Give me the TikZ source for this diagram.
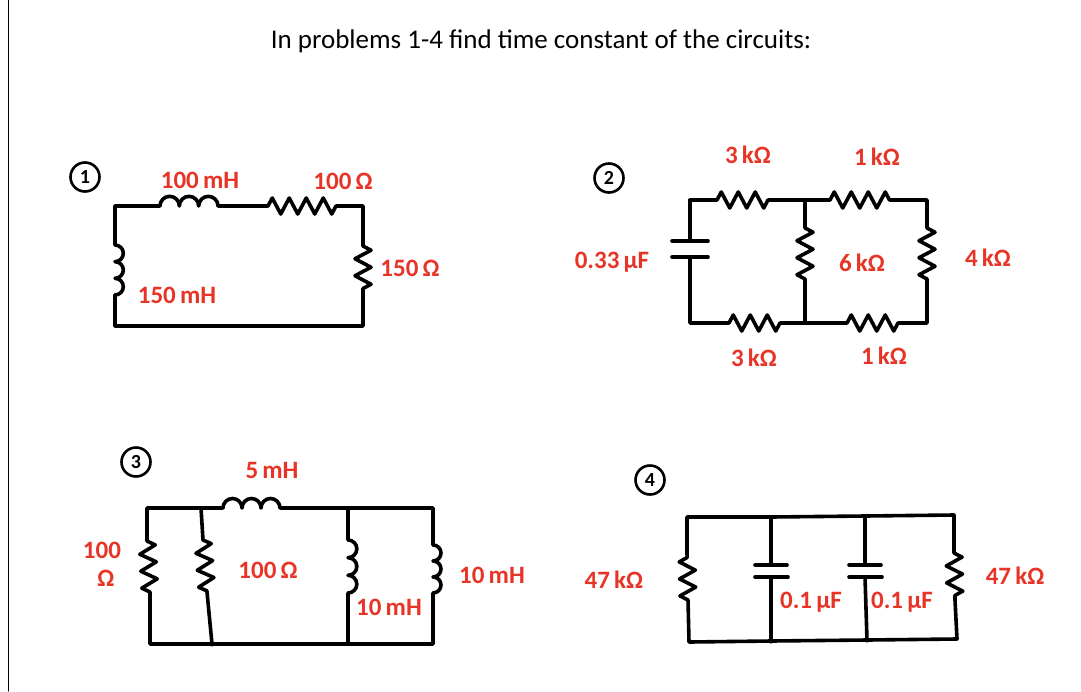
\documentclass[tikz,border=0pt]{standalone}
\usepackage{fontspec}
\setmainfont{Carlito}
\usetikzlibrary{decorations.pathmorphing}
\definecolor{hand}{RGB}{232,52,38}
\begin{document}
\begin{tikzpicture}[x=1pt,y=-1pt,line width=3.6pt,line join=round,line cap=round,
  res/.style={decoration={zigzag,segment length=17,amplitude=8}},
  hh/.style={start angle=180,end angle=360,radius=#1},
  vh/.style={start angle=-90,end angle=90,radius=#1},
  lab/.style={text=hand,font=\fontsize{25}{25}\bfseries\selectfont,inner sep=0pt},
  num/.style={circle,draw,line width=2.6pt,minimum size=29pt,inner sep=0pt,font=\fontsize{20}{20}\bfseries\selectfont},
  dot/.style={circle,fill,inner sep=1.8pt}]
\useasboundingbox (0,0) rectangle (1081,691);
\draw[line width=1pt] (8,0) -- (8,691);
\node (title) at (541,41) {\fontsize{27}{27}\selectfont In problems 1-4 find time constant of the circuits:};

% circuit 1
\node[num] (n1) at (85,177) {1};
\coordinate (a1) at (115,206); \coordinate (b1) at (363,206);
\coordinate (c1) at (363,326); \coordinate (d1) at (115,326);
\draw (a1) -- (160,206) arc[hh=9.67] arc[hh=9.67] arc[hh=9.67] -- (268,206) decorate[res]{-- (343,206)} -- (b1)
  -- (363,246) decorate[res]{-- (363,292)} -- (c1) -- (d1) -- (115,295);
\draw (a1) -- (115,245) arc[vh=8.33] arc[vh=8.33] arc[vh=8.33] -- (d1);
\node[lab] (l11) at (200,180) {100\,mH};
\node[lab] (l12) at (343,181) {100\,Ω};
\node[lab] (l13) at (410,268) {150\,Ω};
\node[lab] (l14) at (177,295) {150\,mH};

% circuit 2
\node[num] (n2) at (609,178) {2};
\coordinate (a2) at (690,200); \coordinate (m2) at (805,200); \coordinate (b2) at (927,200);
\coordinate (c2) at (927,323); \coordinate (mb2) at (805,323); \coordinate (d2) at (690,323);
\draw (a2) -- (717,200) decorate[res]{-- (768,200)} -- (m2) -- (830,200) decorate[res]{-- (890,200)} -- (b2)
  -- (927,228) decorate[res]{-- (927,283)} -- (c2) -- (898,323) decorate[res]{-- (842,323)} -- (mb2)
  -- (780,323) decorate[res]{-- (722,323)} -- (d2) -- (690,257);
\draw (a2) -- (690,241);
\draw (m2) -- (805,228) decorate[res]{-- (805,287)} -- (mb2);
\draw (672,241) -- (708,241) (672,257) -- (708,257);
\node[lab] (l21) at (748,155) {3\,kΩ};
\node[lab] (l22) at (877,157) {1\,kΩ};
\node[lab] (l23) at (612,262) {0.33\,μF};
\node[lab] (l24) at (862,263) {6\,kΩ};
\node[lab] (l25) at (988,258) {4\,kΩ};
\node[lab] (l26) at (754,358) {3\,kΩ};
\node[lab] (l27) at (884,356) {1\,kΩ};

% circuit 3
\node[num] (n3) at (136,462) {3};
\coordinate (a3) at (147,508); \coordinate (p3) at (201,508); \coordinate (q3) at (348,508); \coordinate (b3) at (433,508);
\coordinate (c3) at (433,644); \coordinate (qb3) at (348,644); \coordinate (pb3) at (212,644); \coordinate (d3) at (150,644);
\draw (a3) -- (p3) -- (223,508) arc[hh=9.5] arc[hh=9.5] arc[hh=9.5] -- (q3) -- (b3)
  -- (433,545) arc[vh=8] arc[vh=8] arc[vh=8] -- (c3) -- (qb3) -- (pb3) -- (d3)
  -- (150,592) decorate[res]{-- (147,540)} -- (a3);
\draw (p3) -- (203,540) decorate[res]{-- (207,592)} -- (pb3);
\draw (q3) -- (348,540) arc[vh=8.83] arc[vh=8.83] arc[vh=8.83] -- (qb3);
\node[dot] (j3) at (pb3) {};
\node[lab] (l31) at (102,550) {100};
\node[lab] (l32) at (106,578) {Ω};
\node[lab] (l33) at (268,570) {100\,Ω};
\node[lab] (l34) at (389,607) {10\,mH};
\node[lab] (l35) at (492,575) {10\,mH};
\node[lab] (l36) at (272,470) {5\,mH};

% circuit 4
\node[num] (n4) at (650,480) {4};
\coordinate (a4) at (687,517); \coordinate (p4) at (771,517); \coordinate (q4) at (865,516); \coordinate (b4) at (954,515);
\coordinate (c4) at (957,639); \coordinate (qb4) at (867,640); \coordinate (pb4) at (771,641); \coordinate (d4) at (689,642);
\draw (a4) -- (p4) -- (q4) -- (b4) -- (954,553) decorate[res]{-- (955,600)} -- (c4) -- (qb4) -- (pb4) -- (d4)
  -- (688,600) decorate[res]{-- (687,553)} -- (a4);
\draw (p4) -- (771,565) (771,577) -- (pb4);
\draw (q4) -- (865,565) (865,577) -- (qb4);
\draw (755,565) -- (787,565) (755,577) -- (788,577);
\draw (849,565) -- (881,565) (849,577) -- (882,577);
\node[dot] (j41) at (pb4) {}; \node[dot] (j42) at (qb4) {};
\node[lab] (l41) at (614,580) {47\,kΩ};
\node[lab] (l42) at (811,602) {0.1\,μF};
\node[lab] (l43) at (902,602) {0.1\,μF};
\node[lab] (l44) at (1015,576) {47\,kΩ};
\end{tikzpicture}
\end{document}
